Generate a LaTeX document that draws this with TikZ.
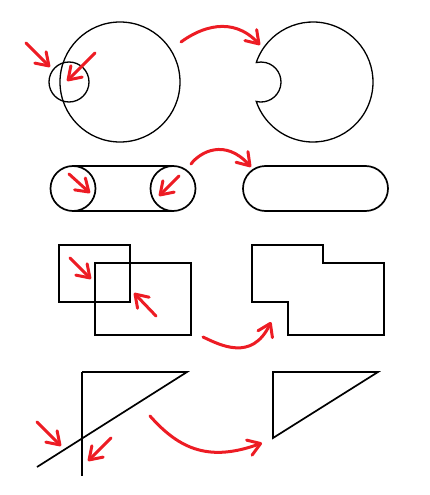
\documentclass[tikz,border=0pt]{standalone}
\usetikzlibrary{arrows.meta}
\definecolor{paintred}{RGB}{237,28,36}
\tikzset{
  thin shape/.style={draw=black,line width=1.3pt},
  mid shape/.style={draw=black,line width=1.7pt},
  thick shape/.style={draw=black,line width=2.1pt,line join=miter},
  redarrow/.style={draw=paintred,line width=3pt,line cap=round,
    -{Straight Barb[length=12pt,width=16pt,round]}},
}
\begin{document}
\begin{tikzpicture}[x=1pt,y=-1pt]
\useasboundingbox (0,0) rectangle (430,495);
% ---------- row 1 : circles ----------
\draw[thin shape] (120,82) circle[radius=60];
\draw[thin shape] (69,82) circle[radius=20];
\draw[thin shape] (313,82) ++(-161.1:60)
  arc[start angle=-161.1,end angle=161.1,radius=60]
  arc[start angle=103.8,end angle=-103.8,radius=20] -- cycle;
\coordinate (a1s) at (26,43);  \coordinate (a1e) at (50,67);
\coordinate (a2s) at (95,53);  \coordinate (a2e) at (67,81);
\draw[redarrow] (a1s) -- (a1e);
\draw[redarrow] (a2s) -- (a2e);
\coordinate (c1s) at (181,42); \coordinate (c1e) at (260,45);
\draw[redarrow] (c1s) .. controls (200,28) and (232,15) .. (c1e);
% ---------- row 2 : capsule ----------
\draw[mid shape] (73,188.5) circle[radius=22.5];
\draw[mid shape] (173,188.5) circle[radius=22.5];
\draw[mid shape] (73,166) -- (173,166);
\draw[mid shape] (73,211) -- (173,211);
\draw[mid shape,rounded corners=22.5pt] (243,166) rectangle (388,211);
\coordinate (b1s) at (69,174);  \coordinate (b1e) at (90,193);
\coordinate (b2s) at (179,176); \coordinate (b2e) at (159,196);
\draw[redarrow] (b1s) -- (b1e);
\draw[redarrow] (b2s) -- (b2e);
\coordinate (c2s) at (191,164); \coordinate (c2e) at (251,167);
\draw[redarrow] (c2s) .. controls (200,152) and (225,138) .. (c2e);
% ---------- row 3 : rectangles ----------
\draw[thick shape] (59,245) rectangle (130,302);
\draw[thick shape] (95,263) rectangle (191,335);
\draw[thick shape] (252,245) -- (323,245) -- (323,263) -- (384,263)
  -- (384,335) -- (288,335) -- (288,302) -- (252,302) -- cycle;
\coordinate (r1s) at (70,258);  \coordinate (r1e) at (91,279);
\coordinate (r2s) at (156,316); \coordinate (r2e) at (134,293);
\draw[redarrow] (r1s) -- (r1e);
\draw[redarrow] (r2s) -- (r2e);
\coordinate (c3s) at (203,337); \coordinate (c3e) at (271,322);
\draw[redarrow] (c3s) .. controls (220,345) and (252,362) .. (c3e);
% ---------- row 4 : lines / triangle ----------
\draw[mid shape] (82,372) -- (82,476);
\draw[mid shape,line join=miter] (82,372) -- (187,372) -- (37,467);
\draw[mid shape,line join=miter] (273,372) -- (378,372) -- (273,438) -- cycle;
\coordinate (t1s) at (37,422);  \coordinate (t1e) at (61,446);
\coordinate (t2s) at (111,438); \coordinate (t2e) at (88,461);
\draw[redarrow] (t1s) -- (t1e);
\draw[redarrow] (t2s) -- (t2e);
\coordinate (c4s) at (150,416); \coordinate (c4e) at (262,443);
\draw[redarrow] (c4s) .. controls (180,450) and (210,462) .. (c4e);
\end{tikzpicture}
\end{document}
